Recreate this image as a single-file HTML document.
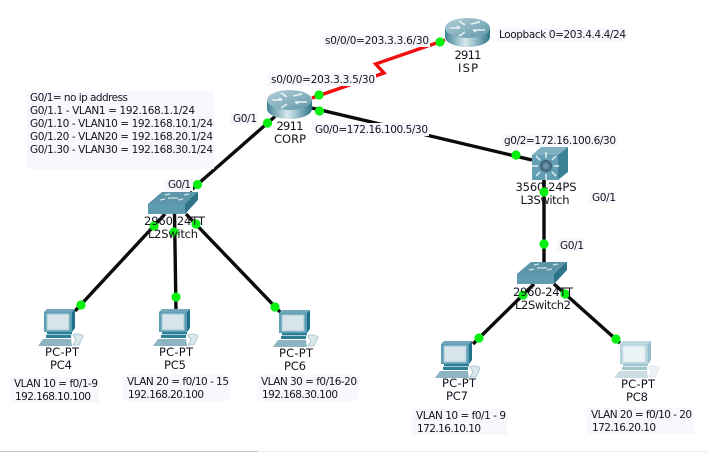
<!DOCTYPE html>
<html><head><meta charset="utf-8"><style>
html,body{margin:0;padding:0;background:#fff}
svg{display:block}
text{font-family:"DejaVu Sans","Liberation Sans",sans-serif;font-size:10.5px;fill:#14141e}
.m{text-anchor:middle;font-size:11.5px}
</style></head><body>
<svg width="708" height="452" viewBox="0 0 708 452" xmlns="http://www.w3.org/2000/svg">
<defs>
<linearGradient id="rb" x1="0" x2="1" y1="0" y2="0"><stop offset="0" stop-color="#3f8298"/><stop offset=".45" stop-color="#d8e8ec"/><stop offset=".62" stop-color="#a6c8d2"/><stop offset="1" stop-color="#2f7589"/></linearGradient>
<linearGradient id="rt" x1="0" x2="1" y1="0" y2="1"><stop offset="0" stop-color="#b4d0d9"/><stop offset="1" stop-color="#5f97a9"/></linearGradient>
<radialGradient id="l3" cx=".5" cy=".5" r=".5"><stop offset="0" stop-color="#7fa6b8"/><stop offset="1" stop-color="#34596f"/></radialGradient>
<g id="router">
<path d="M0 10V19A22.5 10 0 0 0 45 19V10Z" fill="url(#rb)"/>
<ellipse cx="22.5" cy="10" rx="22.5" ry="10" fill="url(#rt)"/>
<path d="M5 10H15M15 10l-3-2M26 6L35 4M35 4l-3 0M20 14l-6 4M28 12H40M28 12l3 2M20 7L14 3" stroke="#e8f2f5" stroke-width="1.6" fill="none"/>
</g>
<g id="switch">
<path d="M0 12L14 0H50V7L37 22H0Z" fill="#3f7f93"/>
<path d="M0 12H37V22H0Z" fill="#5c9bb0"/>
<path d="M0 12L14 0H50L37 12Z" fill="#5d96a8"/>
<path d="M37 12L50 0V8L37 22Z" fill="#2f7389"/>
<path d="M12 8l5-1M30 8l5-1M17 3l5-1M36 3l5-1M20 6H30" stroke="#cfe2e8" stroke-width="1.2" fill="none"/>
</g>
<g id="pc">
<path d="M6 3L9 0H37L34 3Z" fill="#6fa7b9"/>
<path d="M34 3L37 0V19L34 23Z" fill="#1f7189"/>
<rect x="6" y="3" width="28" height="20" fill="#5b9fb4"/>
<rect x="9" y="5" width="22" height="16" fill="#d6e5eb" stroke="#a8c7d2"/>
<path d="M9 23H34V25H9ZM8 26H33V29H8Z" fill="#2d7f96"/>
<path d="M9 25H34V26H9Z" fill="#a8ccd6"/>
<path d="M5 30H33L34 37H0Z" fill="#8db4c2"/>
<path d="M35 26C38 24 43 25 45 27L41 36H35L38 31Z" fill="#dbe8ec" stroke="#9fc0cb" stroke-width=".8"/>
</g>
</defs>

<rect width="708" height="452" fill="#fff"/>
<rect x="0" y="451" width="258" height="1" fill="#c4c4c4"/>
<rect x="258" y="451" width="450" height="1" fill="#eeeeee"/>

<!-- links -->
<g fill="none" stroke="#0b0b0b" stroke-width="3.4">
<path d="M275 116.5L190 191"/>
<path d="M312 108L532 160"/>
<path d="M544 180V264"/>
<path d="M165 214L75 311"/>
<path d="M174.5 214L176 310"/>
<path d="M186 214L282 314"/>
<path d="M534 284L473 344"/>
<path d="M554 284L620 343"/>
</g>
<path d="M312 98L384 73L375.6 64L445 40" fill="none" stroke="#f00e0e" stroke-width="3.4"/>

<!-- label backgrounds -->
<g fill="#f6f8fe">
<rect x="27" y="91" width="187" height="78"/>
<rect x="268" y="73" width="108" height="13"/>
<rect x="323" y="34" width="107" height="13"/>
<rect x="496" y="28" width="131" height="13"/>
<rect x="312" y="123" width="117" height="13"/>
<rect x="501" y="135" width="117" height="12"/>
<rect x="230" y="113" width="28" height="12"/>
<rect x="164" y="179" width="29" height="12"/>
<rect x="589" y="192" width="27" height="11"/>
<rect x="557" y="239" width="27" height="12"/>
<rect x="10" y="377" width="89" height="26"/>
<rect x="123" y="375" width="107" height="26"/>
<rect x="257" y="375" width="101" height="26"/>
<rect x="412" y="409" width="95" height="26"/>
<rect x="587" y="408" width="107" height="26"/>
</g>

<!-- devices -->
<use href="#router" x="267" y="90"/>
<use href="#router" x="445" y="18"/>
<use href="#switch" x="148" y="192"/>
<use href="#switch" x="517" y="262"/>
<use href="#pc" x="38" y="309"/>
<use href="#pc" x="153" y="309"/>
<use href="#pc" x="273" y="310"/>
<use href="#pc" x="435" y="341"/>
<use href="#pc" x="614" y="341" opacity=".45"/>

<!-- L3 switch -->
<path d="M532 155L541 147H568L558 155Z" fill="#7fb0c0"/>
<path d="M558 155L568 147V172L558 180Z" fill="#3d8197"/>
<rect x="532" y="155" width="26" height="25" fill="#639fb4"/>
<circle cx="546" cy="166" r="6" fill="url(#l3)"/>
<path d="M546 158V152M546 174V180M538 166H532M554 166H559M540 160L536 156M552 160L556 156M540 172L536 176M552 172L556 176" stroke="#e4f0f4" stroke-width="1.5"/>
<path d="M544 180V186" stroke="#0b0b0b" stroke-width="3.4"/>

<!-- dots -->
<g fill="#08f010">
<circle cx="319" cy="95" r="4.6"/>
<circle cx="319.5" cy="111" r="4.6"/>
<circle cx="267.5" cy="123" r="4.6"/>
<circle cx="440" cy="42" r="4.6"/>
<circle cx="516" cy="155" r="4.6"/>
<circle cx="197.5" cy="184.5" r="4.6"/>
<circle cx="154" cy="226" r="4.6"/>
<circle cx="174" cy="232" r="4.6"/>
<circle cx="196" cy="224" r="4.6"/>
<circle cx="81" cy="305" r="4.6"/>
<circle cx="176" cy="297" r="4.6"/>
<circle cx="275" cy="307" r="4.6"/>
<circle cx="544" cy="244" r="4.6"/>
<circle cx="523" cy="295" r="4.6"/>
<circle cx="565" cy="294" r="4.6"/>
<circle cx="479" cy="338" r="4.6"/>
<circle cx="616" cy="339" r="4.6"/>
</g>

<!-- labels -->
<text x="30" y="101" textLength="98" lengthAdjust="spacing">G0/1= no ip address</text>
<text x="30" y="114" textLength="165" lengthAdjust="spacing">G0/1.1 - VLAN1 = 192.168.1.1/24</text>
<text x="30" y="127" textLength="183" lengthAdjust="spacing">G0/1.10 - VLAN10 = 192.168.10.1/24</text>
<text x="30" y="140" textLength="183" lengthAdjust="spacing">G0/1.20 - VLAN20 = 192.168.20.1/24</text>
<text x="30" y="153" textLength="183" lengthAdjust="spacing">G0/1.30 - VLAN30 = 192.168.30.1/24</text>
<text x="271" y="83" textLength="104" lengthAdjust="spacing">s0/0/0=203.3.3.5/30</text>
<text x="325" y="44" textLength="104" lengthAdjust="spacing">s0/0/0=203.3.3.6/30</text>
<text x="499" y="38" textLength="127" lengthAdjust="spacing">Loopback 0=203.4.4.4/24</text>
<text x="315" y="133" textLength="113" lengthAdjust="spacing">G0/0=172.16.100.5/30</text>
<text x="504" y="144" textLength="112" lengthAdjust="spacing">g0/2=172.16.100.6/30</text>
<text x="233" y="122" textLength="24" lengthAdjust="spacing">G0/1</text>
<text x="168" y="188" textLength="23" lengthAdjust="spacing">G0/1</text>
<text x="592" y="201" textLength="24" lengthAdjust="spacing">G0/1</text>
<text x="560" y="249" textLength="24" lengthAdjust="spacing">G0/1</text>

<text class="m" x="290" y="130" textLength="27">2911</text>
<text class="m" x="290" y="143" textLength="32">CORP</text>
<text class="m" x="468" y="59" textLength="27">2911</text>
<text class="m" x="468" y="72" textLength="20">ISP</text>
<text class="m" x="174.5" y="225" textLength="61">2960-24TT</text>
<text class="m" x="173" y="238" textLength="50">L2Switch</text>
<text class="m" x="546" y="191" textLength="61">3560-24PS</text>
<text class="m" x="545" y="204" textLength="49">L3Switch</text>
<text class="m" x="543" y="296" textLength="60">2960-24TT</text>
<text class="m" x="543" y="309" textLength="56">L2Switch2</text>
<circle cx="544" cy="192" r="4.6" fill="#08f010"/>

<text class="m" x="62" y="356" textLength="34">PC-PT</text>
<text class="m" x="61" y="369" textLength="22">PC4</text>
<text class="m" x="176" y="356" textLength="34">PC-PT</text>
<text class="m" x="175" y="369" textLength="22">PC5</text>
<text class="m" x="296" y="357" textLength="34">PC-PT</text>
<text class="m" x="295" y="370" textLength="22">PC6</text>
<text class="m" x="459" y="387" textLength="34">PC-PT</text>
<text class="m" x="457" y="400" textLength="22">PC7</text>
<text class="m" x="638" y="388" textLength="34">PC-PT</text>
<text class="m" x="637" y="401" textLength="22">PC8</text>

<text x="14" y="387" textLength="84" lengthAdjust="spacing">VLAN 10 = f0/1-9</text>
<text x="15" y="400" textLength="76" lengthAdjust="spacing">192.168.10.100</text>
<text x="127" y="385" textLength="102" lengthAdjust="spacing">VLAN 20 = f0/10 - 15</text>
<text x="128" y="398" textLength="76" lengthAdjust="spacing">192.168.20.100</text>
<text x="261" y="385" textLength="96" lengthAdjust="spacing">VLAN 30 = f0/16-20</text>
<text x="262" y="398" textLength="76" lengthAdjust="spacing">192.168.30.100</text>
<text x="416" y="419" textLength="90" lengthAdjust="spacing">VLAN 10 = f0/1 - 9</text>
<text x="417" y="432" textLength="64" lengthAdjust="spacing">172.16.10.10</text>
<text x="591" y="418" textLength="101" lengthAdjust="spacing">VLAN 20 = f0/10 - 20</text>
<text x="592" y="431" textLength="64" lengthAdjust="spacing">172.16.20.10</text>
</svg>
</body></html>
